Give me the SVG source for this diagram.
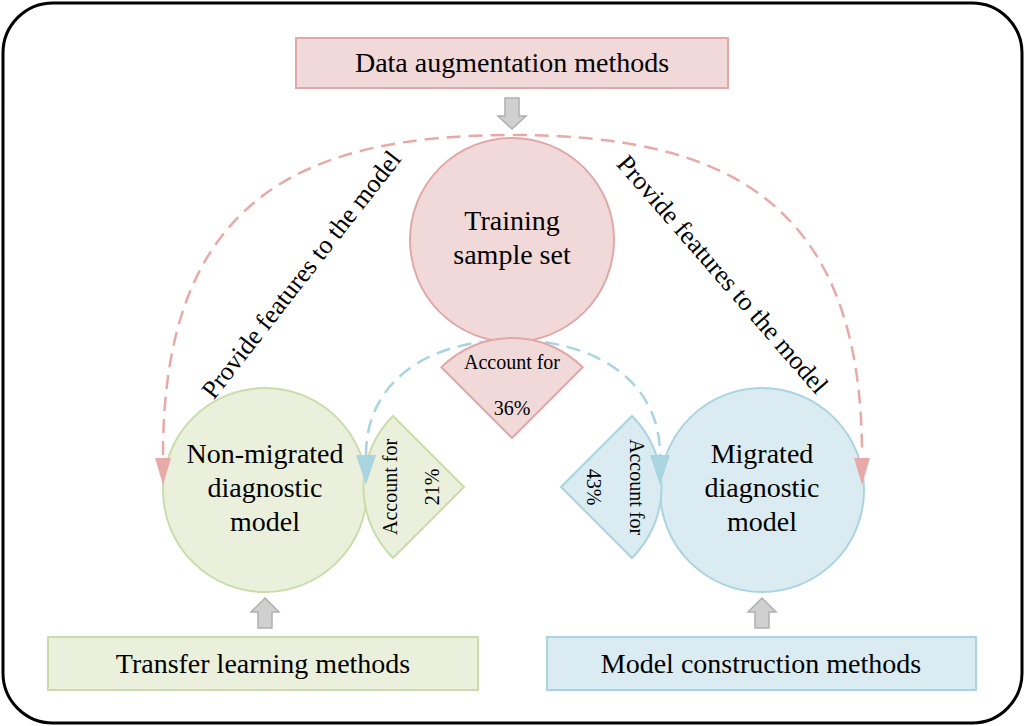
<svg xmlns="http://www.w3.org/2000/svg" width="1025" height="726" viewBox="0 0 1025 726">
<defs>
<style>
text{font-family:"Liberation Serif","Times New Roman",serif;fill:#000;text-anchor:middle}
.t{font-size:28px}.s{font-size:20px}.l{font-size:26px}
.red{fill:#f2d9d9;stroke:#e0a8a8;stroke-width:2}
.grn{fill:#ebf0dc;stroke:#cbdcaa;stroke-width:2}
.blu{fill:#daecf1;stroke:#a9d4e0;stroke-width:2}
.ga{fill:#d0d0d0;stroke:#b0b0b0;stroke-width:1.5}
</style>
</defs>
<rect x="3" y="3" width="1019" height="720" rx="50" fill="#fff" stroke="#000" stroke-width="3"/>
<g id="connectors">
<path d="M163 455C163 200 300 135 512 135C724 135 862 200 862 455" fill="none" stroke="#e8aaa8" stroke-width="2.5" stroke-dasharray="14 8"/>
<path d="M366 455C366 380 430 340 512 340C594 340 660 380 660 455" fill="none" stroke="#a9d4e0" stroke-width="2.5" stroke-dasharray="14 8"/>
<path class="ga" d="M505 98H519V116H526L512 129L498 116H505z"/>
<path class="ga" d="M258 628H272V612H279L265 598L251 612H258z"/>
<path class="ga" d="M755 628H769V612H776L762 598L748 612H755z"/>
</g>
<g id="top"><rect class="red" x="296" y="38" width="432" height="50"/><text class="t" x="512" y="72">Data augmentation methods</text></g>
<g id="training"><circle class="red" cx="512" cy="240" r="102"/><text class="t" x="512" y="230">Training</text><text class="t" x="512" y="264">sample set</text></g>
<g id="w36"><path class="red" d="M512 438L441.3 367.3A100 100 0 0 1 582.7 367.3z"/><text class="s" x="512" y="369">Account for</text><text class="s" x="512" y="415">36%</text></g>
<g id="nonmig"><circle class="grn" cx="265" cy="490" r="102"/><text class="t" x="265" y="463">Non-migrated</text><text class="t" x="265" y="497">diagnostic</text><text class="t" x="265" y="531">model</text></g>
<g id="w21"><path class="grn" d="M464 487L393 416A100 100 0 0 0 393 558z"/><text class="s" transform="translate(397 487) rotate(-90)">Account for</text><text class="s" transform="translate(439 487) rotate(-90)">21%</text></g>
<g id="mig"><circle class="blu" cx="762" cy="490" r="102"/><text class="t" x="762" y="463">Migrated</text><text class="t" x="762" y="497">diagnostic</text><text class="t" x="762" y="531">model</text></g>
<g id="w43"><path class="blu" d="M561 487L632 416A100 100 0 0 1 632 558z"/><text class="s" transform="translate(630 487) rotate(90)">Account for</text><text class="s" transform="translate(587 487) rotate(90)">43%</text></g>
<g id="transfer"><rect class="grn" x="48" y="637" width="430" height="53"/><text class="t" x="263" y="673">Transfer learning methods</text></g>
<g id="construct"><rect class="blu" x="547" y="637" width="429" height="53"/><text class="t" x="761" y="673">Model construction methods</text></g>
<g id="arrowheads">
<path d="M155 458L171 458L163 485z" fill="#e8aaa8"/>
<path d="M854 458L870 458L862 485z" fill="#e8aaa8"/>
<path d="M356 455L376 455L366 485z" fill="#a9d4e0"/>
<path d="M650 455L670 455L660 485z" fill="#a9d4e0"/>
</g>
<text class="l" transform="translate(308 280) rotate(-52)">Provide features to the model</text>
<text class="l" transform="translate(716 280) rotate(49)">Provide features to the model</text>
</svg>
